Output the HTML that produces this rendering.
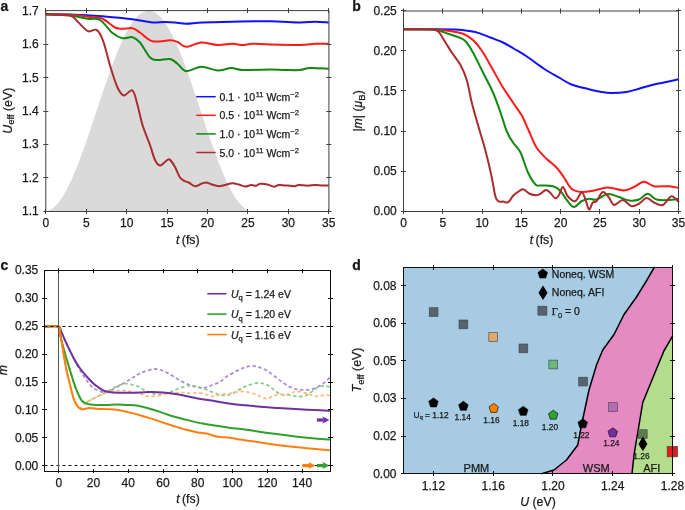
<!DOCTYPE html>
<html><head><meta charset="utf-8"><style>
html,body{margin:0;padding:0;background:#fff;width:685px;height:510px;overflow:hidden}
svg{display:block;will-change:transform;font-family:"Liberation Sans", sans-serif;fill:#1a1a1a}
text{fill:#1a1a1a;stroke:#1a1a1a;stroke-width:0.25px}
</style></head><body>
<svg width="685" height="510" viewBox="0 0 685 510">
<path d="M45.80,211.40 L45.80,211.30 L47.53,210.94 L49.25,210.31 L50.98,209.40 L52.71,208.24 L54.43,206.81 L56.16,205.12 L57.88,203.18 L59.61,200.98 L61.34,198.55 L63.06,195.88 L64.79,192.98 L66.52,189.86 L68.24,186.52 L69.97,182.98 L71.69,179.25 L73.42,175.33 L75.15,171.24 L76.87,166.99 L78.60,162.59 L80.33,158.04 L82.05,153.37 L83.78,148.59 L85.50,143.70 L87.23,138.73 L88.96,133.68 L90.68,128.57 L92.41,123.42 L94.14,118.23 L95.86,113.02 L97.59,107.80 L99.32,102.60 L101.04,97.42 L102.77,92.27 L104.49,87.18 L106.22,82.15 L107.95,77.19 L109.67,72.33 L111.40,67.58 L113.13,62.94 L114.85,58.43 L116.58,54.07 L118.30,49.86 L120.03,45.81 L121.76,41.94 L123.48,38.26 L125.21,34.78 L126.94,31.50 L128.66,28.43 L130.39,25.59 L132.12,22.98 L133.84,20.61 L135.57,18.49 L137.29,16.61 L139.02,14.99 L140.75,13.63 L142.47,12.53 L144.20,11.70 L145.93,11.14 L147.65,10.85 L149.38,10.82 L151.10,11.07 L152.83,11.59 L154.56,12.38 L156.28,13.44 L158.01,14.76 L159.74,16.34 L161.46,18.18 L163.19,20.26 L164.91,22.60 L166.64,25.17 L168.37,27.97 L170.09,31.00 L171.82,34.25 L173.55,37.70 L175.27,41.35 L177.00,45.19 L178.73,49.21 L180.45,53.40 L182.18,57.74 L183.90,62.22 L185.63,66.84 L187.36,71.58 L189.08,76.42 L190.81,81.36 L192.54,86.38 L194.26,91.47 L195.99,96.60 L197.71,101.78 L199.44,106.99 L201.17,112.20 L202.89,117.41 L204.62,122.60 L206.35,127.77 L208.07,132.88 L209.80,137.94 L211.52,142.93 L213.25,147.83 L214.98,152.63 L216.70,157.32 L218.43,161.88 L220.16,166.31 L221.88,170.59 L223.61,174.70 L225.34,178.65 L227.06,182.41 L228.79,185.98 L230.51,189.35 L232.24,192.50 L233.97,195.44 L235.69,198.14 L237.42,200.62 L239.15,202.85 L240.87,204.83 L242.60,206.56 L244.32,208.03 L246.05,209.24 L247.78,210.18 L249.50,210.86 L251.23,211.26 L252.96,211.40 L252.96,211.40 Z" fill="#dadada"/>
<path d="M45.70,14.30 C49.75,14.33 60.53,14.18 70.00,14.50 C79.47,14.82 92.92,15.54 102.50,16.25 C112.08,16.96 121.25,18.04 127.50,18.75 C133.75,19.46 135.83,19.88 140.00,20.50 C144.17,21.12 148.33,22.25 152.50,22.50 C156.67,22.75 161.25,22.00 165.00,22.00 C168.75,22.00 171.46,22.21 175.00,22.50 C178.54,22.79 181.67,23.75 186.25,23.75 C190.83,23.75 194.79,22.83 202.50,22.50 C210.21,22.17 221.25,21.96 232.50,21.75 C243.75,21.54 258.75,21.12 270.00,21.25 C281.25,21.38 292.50,22.42 300.00,22.50 C307.50,22.58 310.22,21.75 315.00,21.75 C319.78,21.75 326.42,22.38 328.70,22.50" fill="none" stroke="#1010ff" stroke-width="2"/>
<path d="M45.70,14.30 C49.75,14.38 62.62,14.35 70.00,14.80 C77.38,15.25 84.58,16.34 90.00,17.00 C95.42,17.66 98.33,17.00 102.50,18.75 C106.67,20.50 111.67,25.83 115.00,27.50 C118.33,29.17 119.58,28.62 122.50,28.75 C125.42,28.88 129.58,27.62 132.50,28.25 C135.42,28.88 136.67,30.33 140.00,32.50 C143.33,34.67 147.50,39.95 152.50,41.25 C157.50,42.55 165.83,40.17 170.00,40.30 C174.17,40.42 174.79,40.92 177.50,42.00 C180.21,43.08 182.29,46.67 186.25,46.75 C190.21,46.83 196.04,42.79 201.25,42.50 C206.46,42.21 212.29,44.79 217.50,45.00 C222.71,45.21 228.33,43.75 232.50,43.75 C236.67,43.75 239.17,45.00 242.50,45.00 C245.83,45.00 247.92,43.83 252.50,43.75 C257.08,43.67 262.08,44.29 270.00,44.50 C277.92,44.71 292.50,45.12 300.00,45.00 C307.50,44.88 310.22,43.96 315.00,43.75 C319.78,43.54 326.42,43.75 328.70,43.75" fill="none" stroke="#ff1a1a" stroke-width="2"/>
<path d="M45.70,14.30 C49.75,14.50 63.03,14.76 70.00,15.50 C76.97,16.24 82.50,18.00 87.50,18.75 C92.50,19.50 95.83,17.62 100.00,20.00 C104.17,22.38 108.75,29.97 112.50,33.00 C116.25,36.03 119.17,37.50 122.50,38.20 C125.83,38.90 129.58,36.48 132.50,37.20 C135.42,37.92 137.08,39.12 140.00,42.50 C142.92,45.88 147.08,54.58 150.00,57.50 C152.92,60.42 154.17,59.75 157.50,60.00 C160.83,60.25 166.67,58.38 170.00,59.00 C173.33,59.62 174.79,61.71 177.50,63.75 C180.21,65.79 182.29,70.75 186.25,71.25 C190.21,71.75 196.04,66.88 201.25,66.75 C206.46,66.62 212.50,70.29 217.50,70.50 C222.50,70.71 227.08,68.08 231.25,68.00 C235.42,67.92 236.04,69.75 242.50,70.00 C248.96,70.25 262.92,69.50 270.00,69.50 C277.08,69.50 280.00,69.92 285.00,70.00 C290.00,70.08 295.83,70.33 300.00,70.00 C304.17,69.67 305.22,68.21 310.00,68.00 C314.78,67.79 325.58,68.62 328.70,68.75" fill="none" stroke="#118811" stroke-width="2"/>
<path d="M45.70,14.30 C49.75,14.50 64.70,14.30 70.00,15.50 C75.30,16.70 74.50,18.88 77.50,21.50 C80.50,24.12 84.83,29.80 88.00,31.20 C91.17,32.60 94.00,28.35 96.50,29.90 C99.00,31.45 100.65,34.23 103.00,40.50 C105.35,46.77 108.18,59.67 110.60,67.50 C113.02,75.33 115.31,82.83 117.50,87.50 C119.69,92.17 121.25,95.00 123.75,95.50 C126.25,96.00 130.21,88.92 132.50,90.50 C134.79,92.08 135.83,99.25 137.50,105.00 C139.17,110.75 140.42,118.33 142.50,125.00 C144.58,131.67 147.92,139.17 150.00,145.00 C152.08,150.83 153.33,156.58 155.00,160.00 C156.67,163.42 158.33,165.17 160.00,165.50 C161.67,165.83 163.42,163.00 165.00,162.00 C166.58,161.00 167.83,158.67 169.50,159.50 C171.17,160.33 173.25,164.00 175.00,167.00 C176.75,170.00 178.33,175.12 180.00,177.50 C181.67,179.88 183.54,180.42 185.00,181.25 C186.46,182.08 187.08,181.67 188.75,182.50 C190.42,183.33 192.92,186.04 195.00,186.25 C197.08,186.46 199.38,184.38 201.25,183.75 C203.12,183.12 204.58,182.42 206.25,182.50 C207.92,182.58 209.17,183.62 211.25,184.25 C213.33,184.88 216.46,186.12 218.75,186.25 C221.04,186.38 222.71,185.50 225.00,185.00 C227.29,184.50 230.21,183.33 232.50,183.25 C234.79,183.17 236.67,183.96 238.75,184.50 C240.83,185.04 242.92,186.42 245.00,186.50 C247.08,186.58 249.38,185.12 251.25,185.00 C253.12,184.88 254.79,185.96 256.25,185.75 C257.71,185.54 258.12,183.96 260.00,183.75 C261.88,183.54 265.21,184.00 267.50,184.50 C269.79,185.00 271.88,186.67 273.75,186.75 C275.62,186.83 276.88,185.21 278.75,185.00 C280.62,184.79 283.12,185.38 285.00,185.50 C286.88,185.62 288.33,185.62 290.00,185.75 C291.67,185.88 293.54,186.38 295.00,186.25 C296.46,186.12 296.67,185.08 298.75,185.00 C300.83,184.92 304.79,185.75 307.50,185.75 C310.21,185.75 312.50,185.04 315.00,185.00 C317.50,184.96 320.22,185.42 322.50,185.50 C324.78,185.58 327.67,185.50 328.70,185.50" fill="none" stroke="#ab2b2e" stroke-width="2"/>
<line x1="196.2" x2="215.7" y1="96.70" y2="96.70" stroke="#1010ff" stroke-width="1.5"/>
<text x="219.5" y="100.70" font-size="10.5">0.1 · 10<tspan dy="-4" dx="0.6" font-size="7.5">11</tspan><tspan dy="4"> Wcm</tspan><tspan dy="-4" font-size="7.5">−2</tspan></text>
<line x1="196.2" x2="215.7" y1="115.30" y2="115.30" stroke="#ff1a1a" stroke-width="1.5"/>
<text x="219.5" y="119.30" font-size="10.5">0.5 · 10<tspan dy="-4" dx="0.6" font-size="7.5">11</tspan><tspan dy="4"> Wcm</tspan><tspan dy="-4" font-size="7.5">−2</tspan></text>
<line x1="196.2" x2="215.7" y1="133.90" y2="133.90" stroke="#118811" stroke-width="1.5"/>
<text x="219.5" y="137.90" font-size="10.5">1.0 · 10<tspan dy="-4" dx="0.6" font-size="7.5">11</tspan><tspan dy="4"> Wcm</tspan><tspan dy="-4" font-size="7.5">−2</tspan></text>
<line x1="196.2" x2="215.7" y1="152.50" y2="152.50" stroke="#ab2b2e" stroke-width="1.5"/>
<text x="219.5" y="156.50" font-size="10.5">5.0 · 10<tspan dy="-4" dx="0.6" font-size="7.5">11</tspan><tspan dy="4"> Wcm</tspan><tspan dy="-4" font-size="7.5">−2</tspan></text>
<rect x="45.80" y="10.60" width="283.10" height="200.90" fill="none" stroke="#404040" stroke-width="1"/>
<line x1="45.50" x2="45.50" y1="209.00" y2="214.00" stroke="#404040" stroke-width="1"/>
<line x1="45.50" x2="45.50" y1="8.10" y2="13.10" stroke="#404040" stroke-width="1"/>
<text x="45.80" y="227.00" font-size="12" text-anchor="middle" >0</text>
<line x1="86.50" x2="86.50" y1="209.00" y2="214.00" stroke="#404040" stroke-width="1"/>
<line x1="86.50" x2="86.50" y1="8.10" y2="13.10" stroke="#404040" stroke-width="1"/>
<text x="86.23" y="227.00" font-size="12" text-anchor="middle" >5</text>
<line x1="126.50" x2="126.50" y1="209.00" y2="214.00" stroke="#404040" stroke-width="1"/>
<line x1="126.50" x2="126.50" y1="8.10" y2="13.10" stroke="#404040" stroke-width="1"/>
<text x="126.66" y="227.00" font-size="12" text-anchor="middle" >10</text>
<line x1="167.50" x2="167.50" y1="209.00" y2="214.00" stroke="#404040" stroke-width="1"/>
<line x1="167.50" x2="167.50" y1="8.10" y2="13.10" stroke="#404040" stroke-width="1"/>
<text x="167.09" y="227.00" font-size="12" text-anchor="middle" >15</text>
<line x1="207.50" x2="207.50" y1="209.00" y2="214.00" stroke="#404040" stroke-width="1"/>
<line x1="207.50" x2="207.50" y1="8.10" y2="13.10" stroke="#404040" stroke-width="1"/>
<text x="207.51" y="227.00" font-size="12" text-anchor="middle" >20</text>
<line x1="247.50" x2="247.50" y1="209.00" y2="214.00" stroke="#404040" stroke-width="1"/>
<line x1="247.50" x2="247.50" y1="8.10" y2="13.10" stroke="#404040" stroke-width="1"/>
<text x="247.94" y="227.00" font-size="12" text-anchor="middle" >25</text>
<line x1="288.50" x2="288.50" y1="209.00" y2="214.00" stroke="#404040" stroke-width="1"/>
<line x1="288.50" x2="288.50" y1="8.10" y2="13.10" stroke="#404040" stroke-width="1"/>
<text x="288.37" y="227.00" font-size="12" text-anchor="middle" >30</text>
<line x1="328.50" x2="328.50" y1="209.00" y2="214.00" stroke="#404040" stroke-width="1"/>
<line x1="328.50" x2="328.50" y1="8.10" y2="13.10" stroke="#404040" stroke-width="1"/>
<text x="328.80" y="227.00" font-size="12" text-anchor="middle" >35</text>
<line x1="43.30" x2="48.30" y1="211.50" y2="211.50" stroke="#404040" stroke-width="1"/>
<line x1="326.40" x2="331.40" y1="211.50" y2="211.50" stroke="#404040" stroke-width="1"/>
<text x="38.80" y="215.30" font-size="12" text-anchor="end" >1.1</text>
<line x1="43.30" x2="48.30" y1="177.50" y2="177.50" stroke="#404040" stroke-width="1"/>
<line x1="326.40" x2="331.40" y1="177.50" y2="177.50" stroke="#404040" stroke-width="1"/>
<text x="38.80" y="181.87" font-size="12" text-anchor="end" >1.2</text>
<line x1="43.30" x2="48.30" y1="144.50" y2="144.50" stroke="#404040" stroke-width="1"/>
<line x1="326.40" x2="331.40" y1="144.50" y2="144.50" stroke="#404040" stroke-width="1"/>
<text x="38.80" y="148.43" font-size="12" text-anchor="end" >1.3</text>
<line x1="43.30" x2="48.30" y1="111.50" y2="111.50" stroke="#404040" stroke-width="1"/>
<line x1="326.40" x2="331.40" y1="111.50" y2="111.50" stroke="#404040" stroke-width="1"/>
<text x="38.80" y="115.00" font-size="12" text-anchor="end" >1.4</text>
<line x1="43.30" x2="48.30" y1="77.50" y2="77.50" stroke="#404040" stroke-width="1"/>
<line x1="326.40" x2="331.40" y1="77.50" y2="77.50" stroke="#404040" stroke-width="1"/>
<text x="38.80" y="81.57" font-size="12" text-anchor="end" >1.5</text>
<line x1="43.30" x2="48.30" y1="44.50" y2="44.50" stroke="#404040" stroke-width="1"/>
<line x1="326.40" x2="331.40" y1="44.50" y2="44.50" stroke="#404040" stroke-width="1"/>
<text x="38.80" y="48.13" font-size="12" text-anchor="end" >1.6</text>
<text x="38.80" y="14.70" font-size="12" text-anchor="end" >1.7</text>
<text x="187.75" y="244.30" font-size="12.3" text-anchor="middle" ><tspan font-style="italic">t</tspan><tspan dx="-1"> (fs)</tspan></text>
<text transform="translate(11.6,110.7) rotate(-90)" font-size="12.3" text-anchor="middle"><tspan font-style="italic">U</tspan><tspan font-size="9.5" dy="2.8">eff</tspan><tspan dy="-2.8"> (eV)</tspan></text>
<text x="0.50" y="10.80" font-size="14" text-anchor="start" font-weight="bold">a</text>
<path d="M403.50,29.30 C409.58,29.30 431.42,29.27 440.00,29.30 C448.58,29.33 451.00,29.35 455.00,29.50 C459.00,29.65 461.33,29.90 464.00,30.20 C466.67,30.50 468.67,30.85 471.00,31.30 C473.33,31.75 474.75,31.87 478.00,32.90 C481.25,33.93 486.33,35.90 490.50,37.50 C494.67,39.10 499.08,40.62 503.00,42.50 C506.92,44.38 510.08,46.46 514.00,48.75 C517.92,51.04 521.50,52.92 526.50,56.25 C531.50,59.58 538.58,65.21 544.00,68.75 C549.42,72.29 554.42,74.88 559.00,77.50 C563.58,80.12 566.50,82.54 571.50,84.50 C576.50,86.46 584.00,88.00 589.00,89.25 C594.00,90.50 597.75,91.38 601.50,92.00 C605.25,92.62 607.33,93.00 611.50,93.00 C615.67,93.00 621.92,92.71 626.50,92.00 C631.08,91.29 634.42,90.00 639.00,88.75 C643.58,87.50 647.33,86.08 654.00,84.50 C660.67,82.92 674.83,80.12 679.00,79.25" fill="none" stroke="#1010ff" stroke-width="2"/>
<path d="M403.50,29.30 C407.92,29.30 422.58,29.06 430.00,29.30 C437.42,29.54 442.50,30.01 448.00,30.75 C453.50,31.49 458.83,32.21 463.00,33.75 C467.17,35.29 469.67,36.88 473.00,40.00 C476.33,43.12 479.67,47.50 483.00,52.50 C486.33,57.50 489.67,64.17 493.00,70.00 C496.33,75.83 499.67,82.08 503.00,87.50 C506.33,92.92 509.92,97.92 513.00,102.50 C516.08,107.08 519.67,112.08 521.50,115.00 C523.33,117.92 522.75,117.29 524.00,120.00 C525.25,122.71 526.92,126.67 529.00,131.25 C531.08,135.83 533.58,142.92 536.50,147.50 C539.42,152.08 543.17,155.42 546.50,158.75 C549.83,162.08 553.58,164.38 556.50,167.50 C559.42,170.62 561.50,173.96 564.00,177.50 C566.50,181.04 568.58,186.33 571.50,188.75 C574.42,191.17 577.75,191.71 581.50,192.00 C585.25,192.29 589.62,191.25 594.00,190.50 C598.38,189.75 602.75,187.50 607.75,187.50 C612.75,187.50 619.62,190.58 624.00,190.50 C628.38,190.42 630.67,188.46 634.00,187.00 C637.33,185.54 640.67,181.88 644.00,181.75 C647.33,181.62 649.83,185.50 654.00,186.25 C658.17,187.00 664.83,185.96 669.00,186.25 C673.17,186.54 677.33,187.71 679.00,188.00" fill="none" stroke="#ff1a1a" stroke-width="2"/>
<path d="M403.50,29.30 C408.42,29.33 425.58,28.76 433.00,29.50 C440.42,30.24 443.83,32.50 448.00,33.75 C452.17,35.00 455.08,35.75 458.00,37.00 C460.92,38.25 463.00,38.67 465.50,41.25 C468.00,43.83 470.08,47.29 473.00,52.50 C475.92,57.71 479.67,65.83 483.00,72.50 C486.33,79.17 490.08,85.83 493.00,92.50 C495.92,99.17 498.21,106.04 500.50,112.50 C502.79,118.96 504.67,126.25 506.75,131.25 C508.83,136.25 510.71,138.96 513.00,142.50 C515.29,146.04 518.00,147.50 520.50,152.50 C523.00,157.50 525.50,167.17 528.00,172.50 C530.50,177.83 533.42,182.33 535.50,184.50 C537.58,186.67 537.58,185.21 540.50,185.50 C543.42,185.79 549.67,185.33 553.00,186.25 C556.33,187.17 558.04,188.50 560.50,191.00 C562.96,193.50 565.50,198.58 567.75,201.25 C570.00,203.92 571.71,207.00 574.00,207.00 C576.29,207.00 579.00,202.62 581.50,201.25 C584.00,199.88 586.50,199.04 589.00,198.75 C591.50,198.46 593.38,200.29 596.50,199.50 C599.62,198.71 604.00,194.42 607.75,194.00 C611.50,193.58 615.46,195.92 619.00,197.00 C622.54,198.08 625.67,200.08 629.00,200.50 C632.33,200.92 635.88,200.62 639.00,199.50 C642.12,198.38 644.83,193.75 647.75,193.75 C650.67,193.75 652.96,198.46 656.50,199.50 C660.04,200.54 665.25,200.12 669.00,200.00 C672.75,199.88 677.33,198.96 679.00,198.75" fill="none" stroke="#118811" stroke-width="2"/>
<path d="M403.50,29.30 C408.00,29.30 424.75,28.98 430.50,29.30 C436.25,29.62 435.50,29.05 438.00,31.25 C440.50,33.45 443.21,38.96 445.50,42.50 C447.79,46.04 449.25,48.75 451.75,52.50 C454.25,56.25 458.00,60.42 460.50,65.00 C463.00,69.58 464.88,73.75 466.75,80.00 C468.62,86.25 469.88,95.00 471.75,102.50 C473.62,110.00 475.74,117.08 478.00,125.00 C480.26,132.92 483.08,141.65 485.30,150.00 C487.52,158.35 489.67,167.57 491.30,175.10 C492.93,182.63 494.05,190.95 495.10,195.20 C496.15,199.45 496.70,199.50 497.60,200.60 C498.50,201.70 499.52,201.65 500.50,201.80 C501.48,201.95 502.50,201.37 503.50,201.50 C504.50,201.63 505.50,202.68 506.50,202.60 C507.50,202.52 508.50,202.02 509.50,201.00 C510.50,199.98 511.42,197.78 512.50,196.50 C513.58,195.22 514.30,194.50 516.00,193.30 C517.70,192.10 520.95,189.60 522.70,189.30 C524.45,189.00 525.25,190.72 526.50,191.50 C527.75,192.28 528.53,193.38 530.20,194.00 C531.87,194.62 534.70,195.32 536.50,195.20 C538.30,195.08 539.43,194.18 541.00,193.30 C542.57,192.42 544.40,190.03 545.90,189.90 C547.40,189.77 548.43,191.10 550.00,192.50 C551.57,193.90 553.80,197.88 555.30,198.30 C556.80,198.72 557.73,196.88 559.00,195.00 C560.27,193.12 561.44,186.79 562.90,187.00 C564.36,187.21 565.69,193.88 567.75,196.25 C569.81,198.62 572.96,201.88 575.25,201.25 C577.54,200.62 579.83,192.92 581.50,192.50 C583.17,192.08 584.00,195.92 585.25,198.75 C586.50,201.58 587.75,208.88 589.00,209.50 C590.25,210.12 591.50,203.88 592.75,202.50 C594.00,201.12 594.83,203.00 596.50,201.25 C598.17,199.50 600.67,192.62 602.75,192.00 C604.83,191.38 607.12,195.33 609.00,197.50 C610.88,199.67 611.71,204.58 614.00,205.00 C616.29,205.42 619.83,199.79 622.75,200.00 C625.67,200.21 628.79,205.62 631.50,206.25 C634.21,206.88 636.50,205.12 639.00,203.75 C641.50,202.38 644.00,198.21 646.50,198.00 C649.00,197.79 651.29,201.33 654.00,202.50 C656.71,203.67 659.83,206.04 662.75,205.00 C665.67,203.96 668.79,196.67 671.50,196.25 C674.21,195.83 677.75,201.46 679.00,202.50" fill="none" stroke="#ab2b2e" stroke-width="2"/>
<rect x="403.50" y="11.00" width="275.00" height="200.50" fill="none" stroke="#404040" stroke-width="1"/>
<line x1="403.50" x2="403.50" y1="209.00" y2="214.00" stroke="#404040" stroke-width="1"/>
<line x1="403.50" x2="403.50" y1="8.50" y2="13.50" stroke="#404040" stroke-width="1"/>
<text x="403.50" y="227.00" font-size="12" text-anchor="middle" >0</text>
<line x1="442.50" x2="442.50" y1="209.00" y2="214.00" stroke="#404040" stroke-width="1"/>
<line x1="442.50" x2="442.50" y1="8.50" y2="13.50" stroke="#404040" stroke-width="1"/>
<text x="442.79" y="227.00" font-size="12" text-anchor="middle" >5</text>
<line x1="482.50" x2="482.50" y1="209.00" y2="214.00" stroke="#404040" stroke-width="1"/>
<line x1="482.50" x2="482.50" y1="8.50" y2="13.50" stroke="#404040" stroke-width="1"/>
<text x="482.07" y="227.00" font-size="12" text-anchor="middle" >10</text>
<line x1="521.50" x2="521.50" y1="209.00" y2="214.00" stroke="#404040" stroke-width="1"/>
<line x1="521.50" x2="521.50" y1="8.50" y2="13.50" stroke="#404040" stroke-width="1"/>
<text x="521.36" y="227.00" font-size="12" text-anchor="middle" >15</text>
<line x1="560.50" x2="560.50" y1="209.00" y2="214.00" stroke="#404040" stroke-width="1"/>
<line x1="560.50" x2="560.50" y1="8.50" y2="13.50" stroke="#404040" stroke-width="1"/>
<text x="560.64" y="227.00" font-size="12" text-anchor="middle" >20</text>
<line x1="599.50" x2="599.50" y1="209.00" y2="214.00" stroke="#404040" stroke-width="1"/>
<line x1="599.50" x2="599.50" y1="8.50" y2="13.50" stroke="#404040" stroke-width="1"/>
<text x="599.93" y="227.00" font-size="12" text-anchor="middle" >25</text>
<line x1="639.50" x2="639.50" y1="209.00" y2="214.00" stroke="#404040" stroke-width="1"/>
<line x1="639.50" x2="639.50" y1="8.50" y2="13.50" stroke="#404040" stroke-width="1"/>
<text x="639.21" y="227.00" font-size="12" text-anchor="middle" >30</text>
<line x1="678.50" x2="678.50" y1="209.00" y2="214.00" stroke="#404040" stroke-width="1"/>
<line x1="678.50" x2="678.50" y1="8.50" y2="13.50" stroke="#404040" stroke-width="1"/>
<text x="678.50" y="227.00" font-size="12" text-anchor="middle" >35</text>
<line x1="401.00" x2="406.00" y1="211.50" y2="211.50" stroke="#404040" stroke-width="1"/>
<line x1="676.00" x2="681.00" y1="211.50" y2="211.50" stroke="#404040" stroke-width="1"/>
<text x="396.80" y="215.20" font-size="12" text-anchor="end" >0.00</text>
<line x1="401.00" x2="406.00" y1="171.50" y2="171.50" stroke="#404040" stroke-width="1"/>
<line x1="676.00" x2="681.00" y1="171.50" y2="171.50" stroke="#404040" stroke-width="1"/>
<text x="396.80" y="175.10" font-size="12" text-anchor="end" >0.05</text>
<line x1="401.00" x2="406.00" y1="131.50" y2="131.50" stroke="#404040" stroke-width="1"/>
<line x1="676.00" x2="681.00" y1="131.50" y2="131.50" stroke="#404040" stroke-width="1"/>
<text x="396.80" y="135.00" font-size="12" text-anchor="end" >0.10</text>
<line x1="401.00" x2="406.00" y1="90.50" y2="90.50" stroke="#404040" stroke-width="1"/>
<line x1="676.00" x2="681.00" y1="90.50" y2="90.50" stroke="#404040" stroke-width="1"/>
<text x="396.80" y="94.90" font-size="12" text-anchor="end" >0.15</text>
<line x1="401.00" x2="406.00" y1="50.50" y2="50.50" stroke="#404040" stroke-width="1"/>
<line x1="676.00" x2="681.00" y1="50.50" y2="50.50" stroke="#404040" stroke-width="1"/>
<text x="396.80" y="54.80" font-size="12" text-anchor="end" >0.20</text>
<line x1="401.00" x2="406.00" y1="10.50" y2="10.50" stroke="#404040" stroke-width="1"/>
<line x1="676.00" x2="681.00" y1="10.50" y2="10.50" stroke="#404040" stroke-width="1"/>
<text x="396.80" y="14.70" font-size="12" text-anchor="end" >0.25</text>
<text x="541.55" y="244.30" font-size="12.3" text-anchor="middle" ><tspan font-style="italic">t</tspan><tspan dx="-1"> (fs)</tspan></text>
<text transform="translate(361.9,110.9) rotate(-90)" font-size="12.3" text-anchor="middle">|<tspan font-style="italic">m</tspan>| (<tspan font-style="italic">μ</tspan><tspan font-size="9.5" dy="2.8">B</tspan><tspan dy="-2.8">)</tspan></text>
<text x="352.30" y="10.80" font-size="14" text-anchor="start" font-weight="bold">b</text>
<path d="M58.80,326.60 C59.22,327.50 59.83,328.78 61.30,332.00 C62.77,335.22 65.52,341.50 67.60,345.90 C69.68,350.30 72.13,355.05 73.80,358.40 C75.47,361.75 76.33,363.65 77.60,366.00 C78.87,368.35 79.93,370.17 81.40,372.50 C82.87,374.83 84.52,377.48 86.40,380.00 C88.28,382.52 90.40,385.72 92.70,387.60 C95.00,389.48 98.12,390.52 100.20,391.30 C102.28,392.08 103.53,392.40 105.20,392.30 C106.87,392.20 107.68,391.90 110.20,390.70 C112.72,389.50 116.95,386.98 120.30,385.10 C123.65,383.22 127.35,381.18 130.30,379.40 C133.25,377.62 135.67,375.70 138.00,374.40 C140.33,373.10 141.37,372.50 144.30,371.60 C147.23,370.70 151.83,368.83 155.60,369.00 C159.37,369.17 163.13,370.85 166.90,372.60 C170.67,374.35 174.65,377.52 178.20,379.50 C181.75,381.48 185.27,383.25 188.20,384.50 C191.13,385.75 193.28,386.43 195.80,387.00 C198.32,387.57 200.80,388.12 203.30,387.90 C205.80,387.68 208.02,386.73 210.80,385.70 C213.58,384.67 217.22,383.30 220.00,381.70 C222.78,380.10 224.57,377.98 227.50,376.10 C230.43,374.22 234.67,371.87 237.60,370.40 C240.53,368.93 242.60,368.07 245.10,367.30 C247.60,366.53 250.08,365.75 252.60,365.80 C255.12,365.85 257.68,366.72 260.20,367.60 C262.72,368.48 265.20,369.58 267.70,371.10 C270.20,372.62 272.68,374.82 275.20,376.70 C277.72,378.58 280.28,380.67 282.80,382.40 C285.32,384.13 287.82,385.92 290.30,387.10 C292.78,388.28 295.45,389.05 297.70,389.50 C299.95,389.95 301.75,389.77 303.80,389.80 C305.85,389.83 307.93,390.03 310.00,389.70 C312.07,389.37 314.28,388.63 316.20,387.80 C318.12,386.97 319.88,385.77 321.50,384.70 C323.12,383.63 324.50,382.58 325.90,381.40 C327.30,380.22 329.23,378.23 329.90,377.60" fill="none" stroke="#b08cd4" stroke-width="1.8" stroke-dasharray="3.5,2.5"/>
<path d="M58.80,326.60 C59.00,327.93 58.97,330.13 60.00,334.60 C61.03,339.07 63.32,347.42 65.00,353.40 C66.68,359.38 68.63,365.63 70.10,370.50 C71.57,375.37 72.55,378.92 73.80,382.60 C75.05,386.28 76.33,389.68 77.60,392.60 C78.87,395.52 80.25,398.37 81.40,400.10 C82.55,401.83 82.62,403.20 84.50,403.00 C86.38,402.80 90.08,400.22 92.70,398.90 C95.32,397.58 97.70,396.37 100.20,395.10 C102.70,393.83 105.18,392.65 107.70,391.30 C110.22,389.95 112.58,388.25 115.30,387.00 C118.02,385.75 121.50,384.23 124.00,383.80 C126.50,383.37 127.97,383.97 130.30,384.40 C132.63,384.83 135.67,385.45 138.00,386.40 C140.33,387.35 142.20,389.02 144.30,390.10 C146.40,391.18 148.52,392.17 150.60,392.90 C152.68,393.63 154.30,394.38 156.80,394.50 C159.30,394.62 163.08,394.12 165.60,393.60 C168.12,393.08 169.60,392.30 171.90,391.40 C174.20,390.50 176.68,389.15 179.40,388.20 C182.12,387.25 185.47,386.05 188.20,385.70 C190.93,385.35 193.28,385.62 195.80,386.10 C198.32,386.58 200.80,387.72 203.30,388.60 C205.80,389.48 208.02,390.35 210.80,391.40 C213.58,392.45 216.80,394.35 220.00,394.90 C223.20,395.45 226.87,395.53 230.00,394.70 C233.13,393.87 235.87,391.43 238.80,389.90 C241.73,388.37 244.45,386.65 247.60,385.50 C250.75,384.35 254.55,383.15 257.70,383.00 C260.85,382.85 263.78,383.45 266.50,384.60 C269.22,385.75 271.70,388.28 274.00,389.90 C276.30,391.52 278.42,393.48 280.30,394.30 C282.18,395.12 283.43,394.63 285.30,394.80 C287.17,394.97 289.43,395.03 291.50,395.30 C293.57,395.57 295.65,396.25 297.70,396.40 C299.75,396.55 301.90,396.63 303.80,396.20 C305.70,395.77 307.48,394.77 309.10,393.80 C310.72,392.83 311.88,391.55 313.50,390.40 C315.12,389.25 317.03,387.63 318.80,386.90 C320.57,386.17 322.25,386.00 324.10,386.00 C325.95,386.00 328.93,386.75 329.90,386.90" fill="none" stroke="#8fcc8a" stroke-width="1.8" stroke-dasharray="3.5,2.5"/>
<path d="M58.80,326.60 C59.00,327.50 59.38,328.58 60.00,332.00 C60.62,335.42 61.45,340.93 62.50,347.10 C63.55,353.27 65.03,362.67 66.30,369.00 C67.57,375.33 68.85,380.12 70.10,385.10 C71.35,390.08 72.55,395.35 73.80,398.90 C75.05,402.45 76.47,404.93 77.60,406.40 C78.73,407.87 79.35,408.17 80.60,407.70 C81.85,407.23 83.08,405.07 85.10,403.60 C87.12,402.13 89.77,400.42 92.70,398.90 C95.63,397.38 99.78,395.72 102.70,394.50 C105.62,393.28 107.68,392.23 110.20,391.60 C112.72,390.97 115.28,390.85 117.80,390.70 C120.32,390.55 122.80,390.48 125.30,390.70 C127.80,390.92 130.35,391.52 132.80,392.00 C135.25,392.48 137.47,392.87 140.00,393.60 C142.53,394.33 144.98,396.03 148.00,396.40 C151.02,396.77 154.95,396.27 158.10,395.80 C161.25,395.33 163.97,394.08 166.90,393.60 C169.83,393.12 172.98,393.07 175.70,392.90 C178.42,392.73 180.70,392.53 183.20,392.60 C185.70,392.67 188.18,393.25 190.70,393.30 C193.22,393.35 195.78,392.70 198.30,392.90 C200.82,393.10 203.30,393.92 205.80,394.50 C208.30,395.08 210.93,396.37 213.30,396.40 C215.67,396.43 216.78,395.27 220.00,394.70 C223.22,394.13 228.83,393.55 232.60,393.00 C236.37,392.45 239.27,391.33 242.60,391.40 C245.93,391.47 249.67,392.57 252.60,393.40 C255.53,394.23 257.78,395.52 260.20,396.40 C262.62,397.28 265.02,398.70 267.10,398.70 C269.18,398.70 270.72,397.18 272.70,396.40 C274.68,395.62 276.90,394.28 279.00,394.00 C281.10,393.72 283.37,394.78 285.30,394.70 C287.23,394.62 288.83,394.07 290.60,393.50 C292.37,392.93 293.98,391.55 295.90,391.30 C297.82,391.05 300.05,391.58 302.10,392.00 C304.15,392.42 306.30,393.15 308.20,393.80 C310.10,394.45 311.73,395.47 313.50,395.90 C315.27,396.33 316.88,396.60 318.80,396.40 C320.72,396.20 323.15,394.82 325.00,394.70 C326.85,394.58 329.08,395.53 329.90,395.70" fill="none" stroke="#ffbd85" stroke-width="1.8" stroke-dasharray="3.5,2.5"/>
<path d="M44.30,326.60 C46.72,326.60 55.97,325.70 58.80,326.60 C61.63,327.50 59.83,328.78 61.30,332.00 C62.77,335.22 65.52,341.50 67.60,345.90 C69.68,350.30 71.72,354.63 73.80,358.40 C75.88,362.17 77.80,365.32 80.10,368.50 C82.40,371.68 85.08,374.73 87.60,377.50 C90.12,380.27 92.68,383.00 95.20,385.10 C97.72,387.20 100.40,388.95 102.70,390.10 C105.00,391.25 106.48,391.55 109.00,392.00 C111.52,392.45 114.25,392.67 117.80,392.80 C121.35,392.93 126.60,392.83 130.30,392.80 C134.00,392.77 136.62,392.73 140.00,392.60 C143.38,392.47 146.75,392.03 150.60,392.00 C154.45,391.97 158.92,392.05 163.10,392.40 C167.28,392.75 171.52,393.43 175.70,394.10 C179.88,394.77 184.02,395.60 188.20,396.40 C192.38,397.20 196.62,398.17 200.80,398.90 C204.98,399.63 209.63,400.20 213.30,400.80 C216.97,401.40 219.58,401.97 222.80,402.50 C226.02,403.03 228.88,403.53 232.60,404.00 C236.32,404.47 240.92,404.88 245.10,405.30 C249.28,405.72 253.53,406.13 257.70,406.50 C261.87,406.87 265.92,407.20 270.10,407.50 C274.28,407.80 278.62,408.05 282.80,408.30 C286.98,408.55 288.95,408.67 295.20,409.00 C301.45,409.33 314.50,410.02 320.30,410.30 C326.10,410.58 328.38,410.63 330.00,410.70" fill="none" stroke="#7030a0" stroke-width="2"/>
<path d="M44.30,326.60 C46.72,326.60 56.18,325.27 58.80,326.60 C61.42,327.93 58.97,330.13 60.00,334.60 C61.03,339.07 63.32,347.42 65.00,353.40 C66.68,359.38 68.63,365.63 70.10,370.50 C71.57,375.37 72.55,378.92 73.80,382.60 C75.05,386.28 76.33,389.68 77.60,392.60 C78.87,395.52 79.93,398.27 81.40,400.10 C82.87,401.93 84.52,402.83 86.40,403.60 C88.28,404.37 89.57,404.48 92.70,404.70 C95.83,404.92 101.02,404.93 105.20,404.90 C109.38,404.87 114.03,404.50 117.80,404.50 C121.57,404.50 124.43,404.68 127.80,404.90 C131.17,405.12 134.20,405.12 138.00,405.80 C141.80,406.48 146.93,407.98 150.60,409.00 C154.27,410.02 156.33,410.68 160.00,411.90 C163.67,413.12 168.42,415.03 172.60,416.30 C176.78,417.57 180.08,418.28 185.10,419.50 C190.12,420.72 197.47,422.57 202.70,423.60 C207.93,424.63 211.90,424.98 216.50,425.70 C221.10,426.42 225.55,427.27 230.30,427.90 C235.05,428.53 238.37,428.60 245.00,429.50 C251.63,430.40 261.73,432.15 270.10,433.30 C278.47,434.45 286.83,435.47 295.20,436.40 C303.57,437.33 314.50,438.38 320.30,438.90 C326.10,439.42 328.38,439.40 330.00,439.50" fill="none" stroke="#33a02c" stroke-width="2"/>
<path d="M44.30,326.60 C46.72,326.60 56.18,325.70 58.80,326.60 C61.42,327.50 59.38,328.58 60.00,332.00 C60.62,335.42 61.45,340.93 62.50,347.10 C63.55,353.27 65.03,362.67 66.30,369.00 C67.57,375.33 68.85,380.12 70.10,385.10 C71.35,390.08 72.55,395.35 73.80,398.90 C75.05,402.45 76.33,404.68 77.60,406.40 C78.87,408.12 80.15,408.78 81.40,409.20 C82.65,409.62 83.85,409.12 85.10,408.90 C86.35,408.68 87.02,407.93 88.90,407.90 C90.78,407.87 93.27,408.48 96.40,408.70 C99.53,408.92 104.13,409.00 107.70,409.20 C111.27,409.40 114.45,409.42 117.80,409.90 C121.15,410.38 124.10,411.22 127.80,412.10 C131.50,412.98 136.20,414.15 140.00,415.20 C143.80,416.25 147.27,417.33 150.60,418.40 C153.93,419.47 156.33,420.38 160.00,421.60 C163.67,422.82 168.42,424.38 172.60,425.70 C176.78,427.02 180.92,428.38 185.10,429.50 C189.28,430.62 194.13,431.72 197.70,432.40 C201.27,433.08 203.15,432.88 206.50,433.60 C209.85,434.32 214.05,436.07 217.80,436.70 C221.55,437.33 225.67,436.98 229.00,437.40 C232.33,437.82 235.13,438.73 237.80,439.20 C240.47,439.67 239.62,439.42 245.00,440.20 C250.38,440.98 261.73,442.75 270.10,443.90 C278.47,445.05 286.83,446.15 295.20,447.10 C303.57,448.05 314.50,449.08 320.30,449.60 C326.10,450.12 328.38,450.10 330.00,450.20" fill="none" stroke="#ff7f0e" stroke-width="2"/>
<line x1="44.50" x2="330.50" y1="326.50" y2="326.50" stroke="#111" stroke-width="1" stroke-dasharray="3,3"/>
<line x1="44.50" x2="330.50" y1="465.50" y2="465.50" stroke="#111" stroke-width="1" stroke-dasharray="3,3"/>
<path d="M316.90,420.00 L323.50,420.00" stroke="#7030a0" stroke-width="3.2"/>
<path d="M322.50,416.50 L329.50,420.00 L322.50,423.50 L323.50,420.00 Z" fill="#7030a0"/>
<path d="M302.40,465.60 L309.40,465.60" stroke="#ff7f0e" stroke-width="3.2"/>
<path d="M308.40,462.10 L315.40,465.60 L308.40,469.10 L309.40,465.60 Z" fill="#ff7f0e"/>
<path d="M316.90,465.60 L323.50,465.60" stroke="#33a02c" stroke-width="3.2"/>
<path d="M322.50,462.10 L329.50,465.60 L322.50,469.10 L323.50,465.60 Z" fill="#33a02c"/>
<line x1="58.5" x2="58.5" y1="268.00" y2="473.00" stroke="#555" stroke-width="1"/>
<rect x="44.50" y="270.50" width="286.00" height="201.00" fill="none" stroke="#111" stroke-width="1"/>
<line x1="58.50" x2="58.50" y1="469.00" y2="473.00" stroke="#111" stroke-width="1"/>
<line x1="58.50" x2="58.50" y1="269.00" y2="273.00" stroke="#111" stroke-width="1"/>
<text x="58.80" y="486.80" font-size="12" text-anchor="middle" >0</text>
<line x1="93.50" x2="93.50" y1="469.00" y2="473.00" stroke="#111" stroke-width="1"/>
<line x1="93.50" x2="93.50" y1="269.00" y2="273.00" stroke="#111" stroke-width="1"/>
<text x="93.55" y="486.80" font-size="12" text-anchor="middle" >20</text>
<line x1="128.50" x2="128.50" y1="469.00" y2="473.00" stroke="#111" stroke-width="1"/>
<line x1="128.50" x2="128.50" y1="269.00" y2="273.00" stroke="#111" stroke-width="1"/>
<text x="128.30" y="486.80" font-size="12" text-anchor="middle" >40</text>
<line x1="163.50" x2="163.50" y1="469.00" y2="473.00" stroke="#111" stroke-width="1"/>
<line x1="163.50" x2="163.50" y1="269.00" y2="273.00" stroke="#111" stroke-width="1"/>
<text x="163.05" y="486.80" font-size="12" text-anchor="middle" >60</text>
<line x1="197.50" x2="197.50" y1="469.00" y2="473.00" stroke="#111" stroke-width="1"/>
<line x1="197.50" x2="197.50" y1="269.00" y2="273.00" stroke="#111" stroke-width="1"/>
<text x="197.80" y="486.80" font-size="12" text-anchor="middle" >80</text>
<line x1="232.50" x2="232.50" y1="469.00" y2="473.00" stroke="#111" stroke-width="1"/>
<line x1="232.50" x2="232.50" y1="269.00" y2="273.00" stroke="#111" stroke-width="1"/>
<text x="232.55" y="486.80" font-size="12" text-anchor="middle" >100</text>
<line x1="267.50" x2="267.50" y1="469.00" y2="473.00" stroke="#111" stroke-width="1"/>
<line x1="267.50" x2="267.50" y1="269.00" y2="273.00" stroke="#111" stroke-width="1"/>
<text x="267.30" y="486.80" font-size="12" text-anchor="middle" >120</text>
<line x1="302.50" x2="302.50" y1="469.00" y2="473.00" stroke="#111" stroke-width="1"/>
<line x1="302.50" x2="302.50" y1="269.00" y2="273.00" stroke="#111" stroke-width="1"/>
<text x="302.05" y="486.80" font-size="12" text-anchor="middle" >140</text>
<line x1="42.00" x2="47.00" y1="465.50" y2="465.50" stroke="#111" stroke-width="1"/>
<line x1="328.00" x2="333.00" y1="465.50" y2="465.50" stroke="#111" stroke-width="1"/>
<text x="38.30" y="469.50" font-size="12" text-anchor="end" >0.00</text>
<line x1="42.00" x2="47.00" y1="437.50" y2="437.50" stroke="#111" stroke-width="1"/>
<line x1="328.00" x2="333.00" y1="437.50" y2="437.50" stroke="#111" stroke-width="1"/>
<text x="38.30" y="441.63" font-size="12" text-anchor="end" >0.05</text>
<line x1="42.00" x2="47.00" y1="409.50" y2="409.50" stroke="#111" stroke-width="1"/>
<line x1="328.00" x2="333.00" y1="409.50" y2="409.50" stroke="#111" stroke-width="1"/>
<text x="38.30" y="413.77" font-size="12" text-anchor="end" >0.10</text>
<line x1="42.00" x2="47.00" y1="382.50" y2="382.50" stroke="#111" stroke-width="1"/>
<line x1="328.00" x2="333.00" y1="382.50" y2="382.50" stroke="#111" stroke-width="1"/>
<text x="38.30" y="385.90" font-size="12" text-anchor="end" >0.15</text>
<line x1="42.00" x2="47.00" y1="354.50" y2="354.50" stroke="#111" stroke-width="1"/>
<line x1="328.00" x2="333.00" y1="354.50" y2="354.50" stroke="#111" stroke-width="1"/>
<text x="38.30" y="358.04" font-size="12" text-anchor="end" >0.20</text>
<line x1="42.00" x2="47.00" y1="326.50" y2="326.50" stroke="#111" stroke-width="1"/>
<line x1="328.00" x2="333.00" y1="326.50" y2="326.50" stroke="#111" stroke-width="1"/>
<text x="38.30" y="330.18" font-size="12" text-anchor="end" >0.25</text>
<line x1="42.00" x2="47.00" y1="298.50" y2="298.50" stroke="#111" stroke-width="1"/>
<line x1="328.00" x2="333.00" y1="298.50" y2="298.50" stroke="#111" stroke-width="1"/>
<text x="38.30" y="302.31" font-size="12" text-anchor="end" >0.30</text>
<text x="38.30" y="274.44" font-size="12" text-anchor="end" >0.35</text>
<text x="187.95" y="503.00" font-size="12.3" text-anchor="middle" ><tspan font-style="italic">t</tspan><tspan dx="-1"> (fs)</tspan></text>
<text transform="translate(6.9,370.0) rotate(-90)" font-size="12.3" text-anchor="middle" font-style="italic">m</text>
<text x="0.50" y="270.20" font-size="14" text-anchor="start" font-weight="bold">c</text>
<line x1="207.3" x2="226.5" y1="293.75" y2="293.75" stroke="#7030a0" stroke-width="1.6"/>
<text x="231" y="297.75" font-size="10.5"><tspan font-style="italic">U</tspan><tspan font-size="7.5" dy="2.5">q</tspan><tspan dy="-2.5"> = 1.24 eV</tspan></text>
<line x1="207.3" x2="226.5" y1="314.15" y2="314.15" stroke="#33a02c" stroke-width="1.6"/>
<text x="231" y="318.15" font-size="10.5"><tspan font-style="italic">U</tspan><tspan font-size="7.5" dy="2.5">q</tspan><tspan dy="-2.5"> = 1.20 eV</tspan></text>
<line x1="207.3" x2="226.5" y1="334.55" y2="334.55" stroke="#ff7f0e" stroke-width="1.6"/>
<text x="231" y="338.55" font-size="10.5"><tspan font-style="italic">U</tspan><tspan font-size="7.5" dy="2.5">q</tspan><tspan dy="-2.5"> = 1.16 eV</tspan></text>
<rect x="403.50" y="267.50" width="269.00" height="206.00" fill="#a6cbe3"/>
<path d="M654.50,267.00 L646.50,280.75 L636.50,297.00 L624.00,314.50 L614.00,334.50 L602.75,350.00 L596.50,365.00 L589.00,390.00 L585.25,407.50 L581.50,425.00 L577.75,445.00 L566.50,460.00 L554.00,470.00 L541.50,473.75 L672.50,473.50 L672.50,267.50 Z" fill="#e68ac3"/>
<path d="M672.80,335.75 L664.00,350.75 L654.00,375.00 L642.75,402.50 L637.75,432.50 L634.00,455.00 L632.00,473.75 L672.50,473.50 Z" fill="#b3dd8c"/>
<path d="M654.50,267.00 L646.50,280.75 L636.50,297.00 L624.00,314.50 L614.00,334.50 L602.75,350.00 L596.50,365.00 L589.00,390.00 L585.25,407.50 L581.50,425.00 L577.75,445.00 L566.50,460.00 L554.00,470.00 L541.50,473.75" fill="none" stroke="#000" stroke-width="1.5" stroke-linejoin="round"/>
<path d="M672.80,335.75 L664.00,350.75 L654.00,375.00 L642.75,402.50 L637.75,432.50 L634.00,455.00 L632.00,473.75" fill="none" stroke="#000" stroke-width="1.5" stroke-linejoin="round"/>
<rect x="429.20" y="307.70" width="8.80" height="8.80" fill="#56646f" stroke="#444" stroke-width="0.6" opacity="1"/>
<rect x="459.00" y="320.00" width="8.80" height="8.80" fill="#56646f" stroke="#444" stroke-width="0.6" opacity="1"/>
<rect x="488.85" y="332.60" width="8.80" height="8.80" fill="#e3a76a" stroke="#444" stroke-width="0.6" opacity="1"/>
<rect x="519.00" y="344.00" width="8.80" height="8.80" fill="#56646f" stroke="#444" stroke-width="0.6" opacity="1"/>
<rect x="548.90" y="360.10" width="8.80" height="8.80" fill="#6db67d" stroke="#444" stroke-width="0.6" opacity="1"/>
<rect x="578.70" y="377.20" width="8.80" height="8.80" fill="#56646f" stroke="#444" stroke-width="0.6" opacity="1"/>
<rect x="608.60" y="402.70" width="8.80" height="8.80" fill="#b46bb5" stroke="#444" stroke-width="0.6" opacity="1"/>
<rect x="638.35" y="429.70" width="8.80" height="8.80" fill="#5e7a50" stroke="#444" stroke-width="0.6" opacity="1"/>
<rect x="667.15" y="446.35" width="10.50" height="10.50" fill="#e41a1c" stroke="#444" stroke-width="0.6" opacity="1"/>
<path d="M433.50,397.90 L438.26,401.35 L436.44,406.95 L430.56,406.95 L428.74,401.35 Z" fill="#000" stroke="#000" stroke-width="0.6"/>
<path d="M463.40,401.30 L468.16,404.75 L466.34,410.35 L460.46,410.35 L458.64,404.75 Z" fill="#000" stroke="#000" stroke-width="0.6"/>
<path d="M493.75,403.40 L498.51,406.85 L496.69,412.45 L490.81,412.45 L488.99,406.85 Z" fill="#ff8000" stroke="#000" stroke-width="0.6"/>
<path d="M523.25,406.30 L528.01,409.75 L526.19,415.35 L520.31,415.35 L518.49,409.75 Z" fill="#000" stroke="#000" stroke-width="0.6"/>
<path d="M553.25,410.15 L558.01,413.60 L556.19,419.20 L550.31,419.20 L548.49,413.60 Z" fill="#33a02c" stroke="#000" stroke-width="0.6"/>
<path d="M582.75,418.80 L587.51,422.25 L585.69,427.85 L579.81,427.85 L577.99,422.25 Z" fill="#000" stroke="#000" stroke-width="0.6"/>
<path d="M612.75,427.80 L617.51,431.25 L615.69,436.85 L609.81,436.85 L607.99,431.25 Z" fill="#7030a0" stroke="#000" stroke-width="0.6"/>
<path d="M642.90,436.60 L647.40,443.90 L642.90,451.20 L638.40,443.90 Z" fill="#000"/>
<text x="413.60" y="417.90" font-size="8.4" text-anchor="start" >U<tspan font-size="5.5" dy="1.5">q</tspan><tspan dy="-1.5"> = 1.12</tspan></text>
<text x="462.70" y="420.40" font-size="8.4" text-anchor="middle" >1.14</text>
<text x="491.50" y="423.30" font-size="8.4" text-anchor="middle" >1.16</text>
<text x="520.80" y="426.30" font-size="8.4" text-anchor="middle" >1.18</text>
<text x="549.90" y="430.00" font-size="8.4" text-anchor="middle" >1.20</text>
<text x="581.30" y="437.60" font-size="8.4" text-anchor="middle" >1.22</text>
<text x="611.30" y="445.80" font-size="8.4" text-anchor="middle" >1.24</text>
<text x="641.50" y="458.80" font-size="8.4" text-anchor="middle" >1.26</text>
<text x="476.40" y="471.50" font-size="11" text-anchor="middle" >PMM</text>
<text x="596.30" y="471.50" font-size="11" text-anchor="middle" >WSM</text>
<text x="651.80" y="471.50" font-size="11" text-anchor="middle" >AFI</text>
<path d="M542.75,269.00 L547.51,272.45 L545.69,278.05 L539.81,278.05 L537.99,272.45 Z" fill="#000" stroke="#000" stroke-width="0.6"/>
<path d="M543.00,285.45 L547.50,292.75 L543.00,300.05 L538.50,292.75 Z" fill="#000"/>
<rect x="537.90" y="306.20" width="9.00" height="9.00" fill="#56646f" stroke="#444" stroke-width="0.6" opacity="1"/>
<text x="551.80" y="277.60" font-size="10.5" text-anchor="start" >Noneq. WSM</text>
<text x="551.80" y="296.40" font-size="10.5" text-anchor="start" >Noneq. AFI</text>
<text x="551.8" y="315.2" font-size="10.5"><tspan font-family="Liberation Serif">Γ</tspan><tspan font-size="7.5" dy="2.5">0</tspan><tspan dy="-2.5"> = 0</tspan></text>
<rect x="403.50" y="267.50" width="269.00" height="206.00" fill="none" stroke="#111" stroke-width="1"/>
<line x1="433.50" x2="433.50" y1="471.00" y2="476.00" stroke="#111" stroke-width="1"/>
<line x1="433.50" x2="433.50" y1="265.00" y2="270.00" stroke="#111" stroke-width="1"/>
<text x="433.39" y="490.00" font-size="12" text-anchor="middle" >1.12</text>
<line x1="493.50" x2="493.50" y1="471.00" y2="476.00" stroke="#111" stroke-width="1"/>
<line x1="493.50" x2="493.50" y1="265.00" y2="270.00" stroke="#111" stroke-width="1"/>
<text x="493.17" y="490.00" font-size="12" text-anchor="middle" >1.16</text>
<line x1="552.50" x2="552.50" y1="471.00" y2="476.00" stroke="#111" stroke-width="1"/>
<line x1="552.50" x2="552.50" y1="265.00" y2="270.00" stroke="#111" stroke-width="1"/>
<text x="552.94" y="490.00" font-size="12" text-anchor="middle" >1.20</text>
<line x1="612.50" x2="612.50" y1="471.00" y2="476.00" stroke="#111" stroke-width="1"/>
<line x1="612.50" x2="612.50" y1="265.00" y2="270.00" stroke="#111" stroke-width="1"/>
<text x="612.72" y="490.00" font-size="12" text-anchor="middle" >1.24</text>
<line x1="672.50" x2="672.50" y1="471.00" y2="476.00" stroke="#111" stroke-width="1"/>
<line x1="672.50" x2="672.50" y1="265.00" y2="270.00" stroke="#111" stroke-width="1"/>
<text x="672.50" y="490.00" font-size="12" text-anchor="middle" >1.28</text>
<line x1="401.00" x2="406.00" y1="473.50" y2="473.50" stroke="#111" stroke-width="1"/>
<line x1="670.00" x2="675.00" y1="473.50" y2="473.50" stroke="#111" stroke-width="1"/>
<text x="396.50" y="477.50" font-size="12" text-anchor="end" >0.00</text>
<line x1="401.00" x2="406.00" y1="436.50" y2="436.50" stroke="#111" stroke-width="1"/>
<line x1="670.00" x2="675.00" y1="436.50" y2="436.50" stroke="#111" stroke-width="1"/>
<text x="396.50" y="439.95" font-size="12" text-anchor="end" >0.02</text>
<line x1="401.00" x2="406.00" y1="398.50" y2="398.50" stroke="#111" stroke-width="1"/>
<line x1="670.00" x2="675.00" y1="398.50" y2="398.50" stroke="#111" stroke-width="1"/>
<text x="396.50" y="402.40" font-size="12" text-anchor="end" >0.03</text>
<line x1="401.00" x2="406.00" y1="360.50" y2="360.50" stroke="#111" stroke-width="1"/>
<line x1="670.00" x2="675.00" y1="360.50" y2="360.50" stroke="#111" stroke-width="1"/>
<text x="396.50" y="364.85" font-size="12" text-anchor="end" >0.05</text>
<line x1="401.00" x2="406.00" y1="323.50" y2="323.50" stroke="#111" stroke-width="1"/>
<line x1="670.00" x2="675.00" y1="323.50" y2="323.50" stroke="#111" stroke-width="1"/>
<text x="396.50" y="327.30" font-size="12" text-anchor="end" >0.06</text>
<line x1="401.00" x2="406.00" y1="285.50" y2="285.50" stroke="#111" stroke-width="1"/>
<line x1="670.00" x2="675.00" y1="285.50" y2="285.50" stroke="#111" stroke-width="1"/>
<text x="396.50" y="289.75" font-size="12" text-anchor="end" >0.08</text>
<text x="538.00" y="506.30" font-size="12.3" text-anchor="middle" ><tspan font-style="italic">U</tspan> (eV)</text>
<text transform="translate(360.9,370.0) rotate(-90)" font-size="12.3" text-anchor="middle"><tspan font-style="italic">T</tspan><tspan font-size="9.5" dy="2.8">eff</tspan><tspan dy="-2.8"> (eV)</tspan></text>
<text x="352.30" y="270.20" font-size="14" text-anchor="start" font-weight="bold">d</text>
</svg>
</body></html>
